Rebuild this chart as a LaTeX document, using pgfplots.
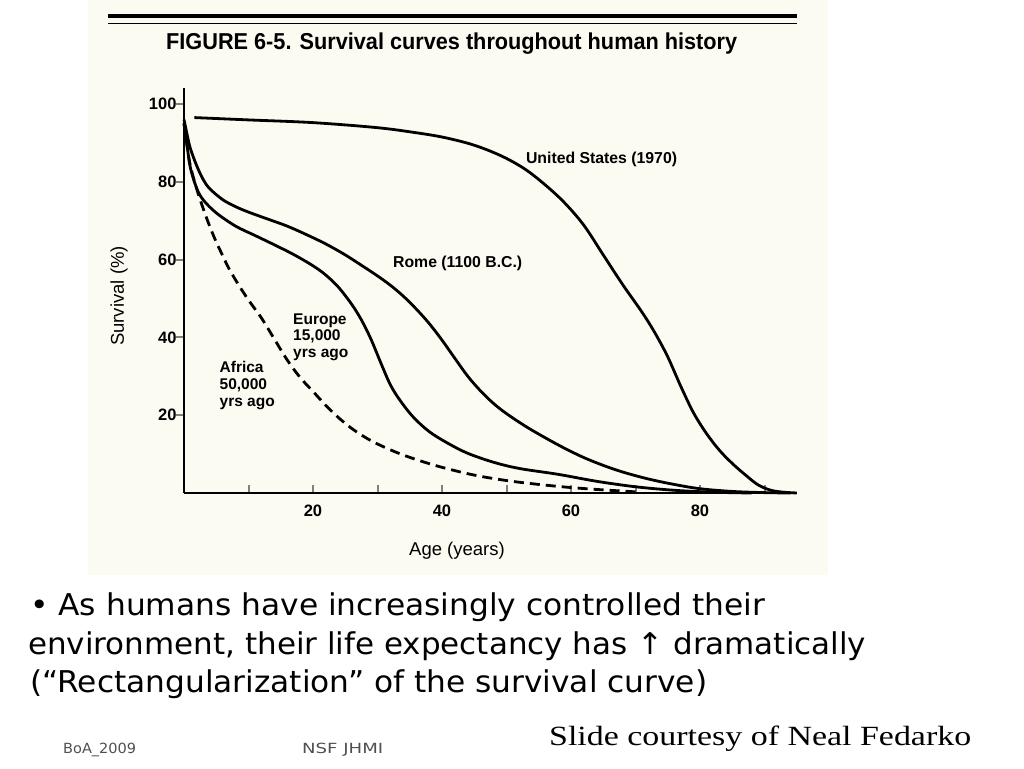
\documentclass[border=0pt]{standalone}
\usepackage{pgfplots}
\pgfplotsset{compat=1.18}
\usepackage{pgfplotstable}
\usepackage{fontspec}
\setmainfont{Liberation Sans}
\newfontfamily\slidefont{DejaVu Sans}
\newfontfamily\seriffont{Liberation Serif}

\definecolor{paper}{RGB}{252,251,242}
\definecolor{footgrey}{RGB}{80,80,80}

% set a line of text to a given width, keeping its height
\newcommand{\fitw}[2]{\resizebox{#1}{\height}{#2}}

\pgfplotsset{curve/.style={black, line width=2.8pt, smooth, tension=0.55, no markers}}

% survival (%) against age (years)
\pgfplotstableread{
age surv
1.6 96.5
10  95.9
20  95.2
30  93.9
36  92.6
40  91.5
44  89.9
47  88.2
50  86.0
53  83.1
56  79.2
59  74.6
62  68.8
65  61.2
68  53.6
71  46.5
73  41.2
75  35.0
77  27.5
79  20.6
81  15.3
83  11.0
85  7.6
87  4.7
89  2.1
91  0.7
93  0.2
95  0.0
}\usdata

\pgfplotstableread{
age surv
0   96
0.5 92
1   88.5
2   84
3   80.5
4   78.2
6   75.4
8   73.6
10  72.2
13  70.4
16  68.6
19  66.4
22  64.0
25  61.2
28  58.0
30  55.8
32  53.4
34  50.6
36  47.3
38  43.6
40  39.3
42  34.6
44  30.0
46  26.2
48  23.0
50  20.4
53  17.1
56  14.2
59  11.5
62  9.1
65  7.1
68  5.4
72  3.6
76  2.2
80  1.1
85  0.4
90  0.1
94  0.0
}\romedata

\pgfplotstableread{
age surv
0   95
0.5 89
1   83.5
2   78.2
3   75.3
5   72.0
8   68.6
11  66.2
14  63.8
17  61.3
20  58.4
22  56.0
24  52.8
26  48.5
27.5 44.5
29  39.5
30.5 33.5
32  27.8
33.5 23.8
35.5 19.6
38  15.8
41  12.7
44  10.2
48  7.9
52  6.3
58  4.8
64  3.0
70  1.6
76  0.7
82  0.2
88  0.0
}\europedata

\pgfplotstableread{
age surv
0   95
0.5 89
1   84
2   78
3   73
4   68.5
5   64.5
6   61.0
7   57.6
8.5 53.4
10  49.6
12  45.0
14  39.6
16  34.2
18  29.7
20  26.1
22  22.5
24  19.3
26  16.6
28  14.4
30  12.6
33  10.4
36  8.6
40  6.6
45  4.6
50  3.2
55  2.2
60  1.4
65  0.8
70  0.3
}\africadata

\begin{document}
\begin{tikzpicture}[x=1pt,y=1pt]
\fill[white] (0,0) rectangle (1024,768);
\useasboundingbox (0,0) rectangle (1024,768);
\fill[paper] (88,193) rectangle (828,768);

% rules and figure title
\draw[line width=4.3pt] (108,751.8) -- (797,751.8);
\draw[line width=1.6pt] (108,744.5) -- (797,744.5);
\node[anchor=base west, inner sep=0] at (166,718)
  {\fitw{571pt}{\fontsize{23}{27}\selectfont\bfseries FIGURE 6-5. Survival curves throughout human history}};

\begin{axis}[
  at={(184pt,275pt)}, anchor=south west,
  scale only axis, width=612.75pt, height=404.6pt,
  xmin=0, xmax=95, ymin=0, ymax=104,
  axis x line=bottom, axis y line=left,
  axis line style={line width=2.4pt, -},
  xtick={10,20,...,90},
  xticklabels={,20,,40,,60,,80,},
  ytick={20,40,60,80,100},
  tick align=outside,
  major tick length=8pt,
  xtick style={line width=2pt, yshift=8pt},
  ytick style={line width=2pt},
  tick label style={font=\fontsize{16.5}{19}\selectfont\bfseries},
  yticklabel style={xshift=4pt},
  /pgf/number format/assume math mode=true,
  xlabel={Age (years)},
  ylabel={Survival (\%)},
  xlabel style={font=\fontsize{18.5}{21}\selectfont, at={(axis description cs:0.4455,-0.143)}, anchor=center},
  ylabel style={font=\fontsize{18.5}{21}\selectfont, at={(axis description cs:-0.106,0.487)}, anchor=center},
  clip=false,
]
\addplot[curve] table[x=age,y=surv] {\usdata};
\addplot[curve] table[x=age,y=surv] {\romedata};
\addplot[curve] table[x=age,y=surv] {\europedata};
\addplot[curve, dash pattern=on 10pt off 6pt] table[x=age,y=surv] {\africadata};

\node[anchor=base west, inner sep=0, font=\fontsize{15.8}{16.7}\selectfont\bfseries]
  at (axis cs:53.0,84.8) {United States (1970)};
\node[anchor=base west, inner sep=0, font=\fontsize{15.8}{16.7}\selectfont\bfseries]
  at (axis cs:32.4,57.9) {Rome (1100 B.C.)};
\node[anchor=north west, inner sep=0, align=left, font=\fontsize{15.5}{16.7}\selectfont\bfseries]
  at (axis cs:16.9,46.2) {Europe\\15,000\\yrs ago};
\node[anchor=north west, inner sep=0, align=left, font=\fontsize{15.5}{16.7}\selectfont\bfseries]
  at (axis cs:5.5,33.8) {Africa\\50,000\\yrs ago};
\end{axis}

% slide text
\node[anchor=base west, inner sep=0] at (30,152)
  {\fitw{735pt}{\slidefont\fontsize{30}{36}\selectfont • As humans have increasingly controlled their}};
\node[anchor=base west, inner sep=0] at (28,114)
  {\fitw{838pt}{\slidefont\fontsize{30}{36}\selectfont environment, their life expectancy has ↑ dramatically}};
\node[anchor=base west, inner sep=0] at (30,76)
  {\fitw{677pt}{\slidefont\fontsize{30}{36}\selectfont (“Rectangularization” of the survival curve)}};

\node[anchor=base west, inner sep=0] at (549,22.3)
  {\fitw{422pt}{\seriffont\fontsize{27.8}{32}\selectfont Slide courtesy of Neal Fedarko}};

\node[anchor=base west, inner sep=0, text=footgrey] at (63,15)
  {\fitw{73pt}{\slidefont\fontsize{14}{16}\selectfont BoA\_2009}};
\node[anchor=base west, inner sep=0, text=footgrey] at (302,15)
  {\fitw{81pt}{\slidefont\fontsize{14}{16}\selectfont NSF JHMI}};
\end{tikzpicture}
\end{document}
